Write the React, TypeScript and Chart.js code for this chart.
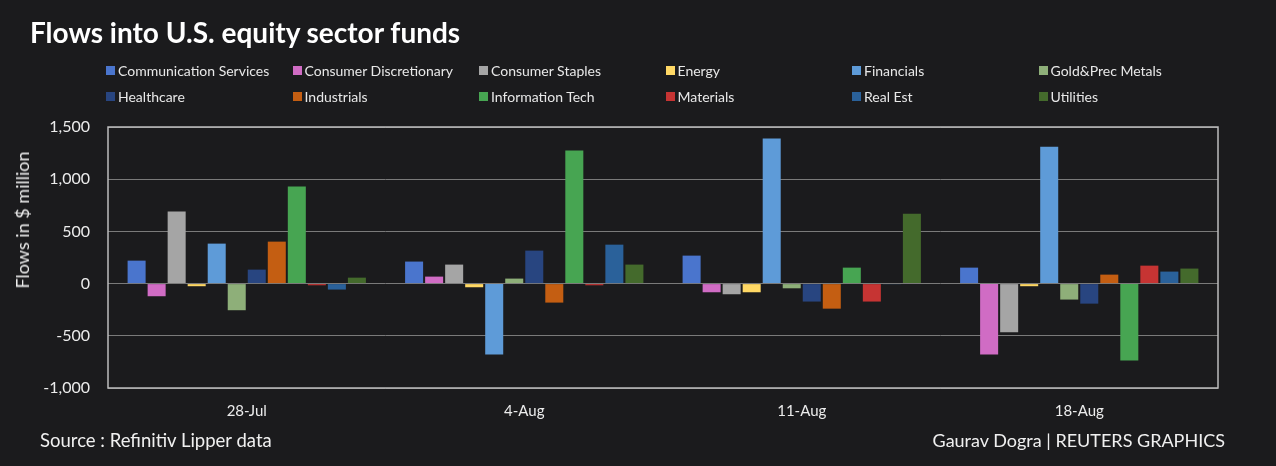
import React, { useEffect, useRef } from "react";
import { Chart, registerables } from "chart.js";

Chart.register(...registerables);

const categories = ["28-Jul", "4-Aug", "11-Aug", "18-Aug"];

const seriesNames = [
  "Communication Services",
  "Consumer Discretionary",
  "Consumer Staples",
  "Energy",
  "Financials",
  "Gold&Prec Metals",
  "Healthcare",
  "Industrials",
  "Information Tech",
  "Materials",
  "Real Est",
  "Utilities",
];

const seriesColors = [
  "#4A75CD",
  "#D06CC4",
  "#A5A5A5",
  "#FFD865",
  "#5E9BD8",
  "#8EAF79",
  "#284580",
  "#C45E12",
  "#47A552",
  "#C63433",
  "#2A619A",
  "#446A2C",
];

const communicationServices = [220, 211, 268, 153];
const consumerDiscretionary = [-121, 67, -83, -680];
const consumerStaples = [690, 182, -102, -466];
const energy = [-25, -35, -83, -25];
const financials = [383, -680, 1389, 1312];
const goldPrecMetals = [-255, 48, -45, -153];
const healthcare = [134, 316, -172, -192];
const industrials = [402, -182, -240, 86];
const informationTech = [929, 1274, 153, -737];
const materials = [-16, -16, -172, 172];
const realEst = [-57, 373, -6, 115];
const utilities = [57, 182, 670, 144];

const seriesValues = [
  communicationServices,
  consumerDiscretionary,
  consumerStaples,
  energy,
  financials,
  goldPrecMetals,
  healthcare,
  industrials,
  informationTech,
  materials,
  realEst,
  utilities,
];

const yMin = -1000;
const yMax = 1500;
const yStep = 500;

const titleText = "Flows into U.S. equity sector funds";
const yAxisTitle = "Flows in $ million";
const sourceText = "Source : Refinitiv Lipper data";
const creditText = "Gaurav Dogra | REUTERS GRAPHICS";

const FONT = "Lato, 'Open Sans', sans-serif";
const BG = "#1b1b1d";

const borderPlugin = {
  id: "plotBorder",
  afterDraw(chart: any) {
    const { ctx, chartArea } = chart;
    ctx.save();
    ctx.strokeStyle = "#bdbdbd";
    ctx.lineWidth = 1.5;
    ctx.strokeRect(
      chartArea.left,
      chartArea.top,
      chartArea.right - chartArea.left,
      chartArea.bottom - chartArea.top
    );
    ctx.restore();
  },
};

export default function App() {
  const canvasRef = useRef<HTMLCanvasElement | null>(null);

  useEffect(() => {
    document.body.style.margin = "0";
    document.body.style.background = BG;
    const canvas = canvasRef.current;
    if (!canvas) return;
    const chart = new Chart(canvas, {
      type: "bar",
      data: {
        labels: categories,
        datasets: seriesNames.map((name, i) => ({
          label: name,
          data: seriesValues[i],
          backgroundColor: seriesColors[i],
          borderWidth: 0,
          categoryPercentage: 0.866,
          barPercentage: 0.9,
        })),
      },
      options: {
        responsive: false,
        animation: false,
        maintainAspectRatio: false,
        layout: { padding: { top: 127, right: 58, left: 0, bottom: 0 } },
        plugins: {
          legend: { display: false },
          title: { display: false },
          tooltip: { enabled: false },
        },
        scales: {
          x: {
            grid: { display: false, drawTicks: false },
            border: { display: false },
            ticks: {
              color: "#ececec",
              font: { family: FONT, size: 15 },
              padding: 14,
            },
            afterFit(scale: any) {
              scale.height = 78;
            },
          },
          y: {
            min: yMin,
            max: yMax,
            grid: { color: "#7a7a7a", lineWidth: 1, drawTicks: false },
            border: { display: false },
            ticks: {
              stepSize: yStep,
              color: "#ececec",
              font: { family: FONT, size: 16 },
              padding: 18,
              callback: (v: any) => Number(v).toLocaleString("en-US"),
            },
            afterFit(scale: any) {
              scale.width = 108;
            },
          },
        },
      },
      plugins: [borderPlugin],
    });
    return () => chart.destroy();
  }, []);

  return (
    <div
      style={{
        position: "relative",
        width: 1276,
        height: 466,
        background: BG,
        overflow: "hidden",
        fontFamily: FONT,
        color: "#ffffff",
      }}
    >
      <canvas
        ref={canvasRef}
        width={1276}
        height={466}
        style={{ position: "absolute", left: 0, top: 0 }}
      />
      <div
        style={{
          position: "absolute",
          left: 30,
          top: 14,
          fontSize: 28,
          fontWeight: 700,
          lineHeight: "36px",
          whiteSpace: "nowrap",
        }}
      >
        {titleText}
      </div>
      {seriesNames.map((name, i) => (
        <div
          key={name}
          style={{
            position: "absolute",
            left: 106 + (i % 6) * 186.5,
            top: i < 6 ? 62 : 88,
            height: 16,
            display: "flex",
            alignItems: "center",
            fontSize: 14,
            color: "#e8e8e8",
            whiteSpace: "nowrap",
          }}
        >
          <span
            style={{
              display: "inline-block",
              width: 9,
              height: 9,
              background: seriesColors[i],
              marginRight: 3,
            }}
          />
          {name}
        </div>
      ))}
      <div
        style={{
          position: "absolute",
          left: 22,
          top: 220,
          transform: "translate(-50%, -50%) rotate(-90deg)",
          fontSize: 18,
          color: "#ececec",
          whiteSpace: "nowrap",
        }}
      >
        {yAxisTitle}
      </div>
      <div
        style={{
          position: "absolute",
          left: 40,
          top: 429,
          fontSize: 18.5,
          lineHeight: "22px",
          color: "#f0f0f0",
          whiteSpace: "nowrap",
        }}
      >
        {sourceText}
      </div>
      <div
        style={{
          position: "absolute",
          right: 51,
          top: 429,
          fontSize: 18,
          lineHeight: "22px",
          color: "#f0f0f0",
          whiteSpace: "nowrap",
        }}
      >
        {creditText}
      </div>
    </div>
  );
}
